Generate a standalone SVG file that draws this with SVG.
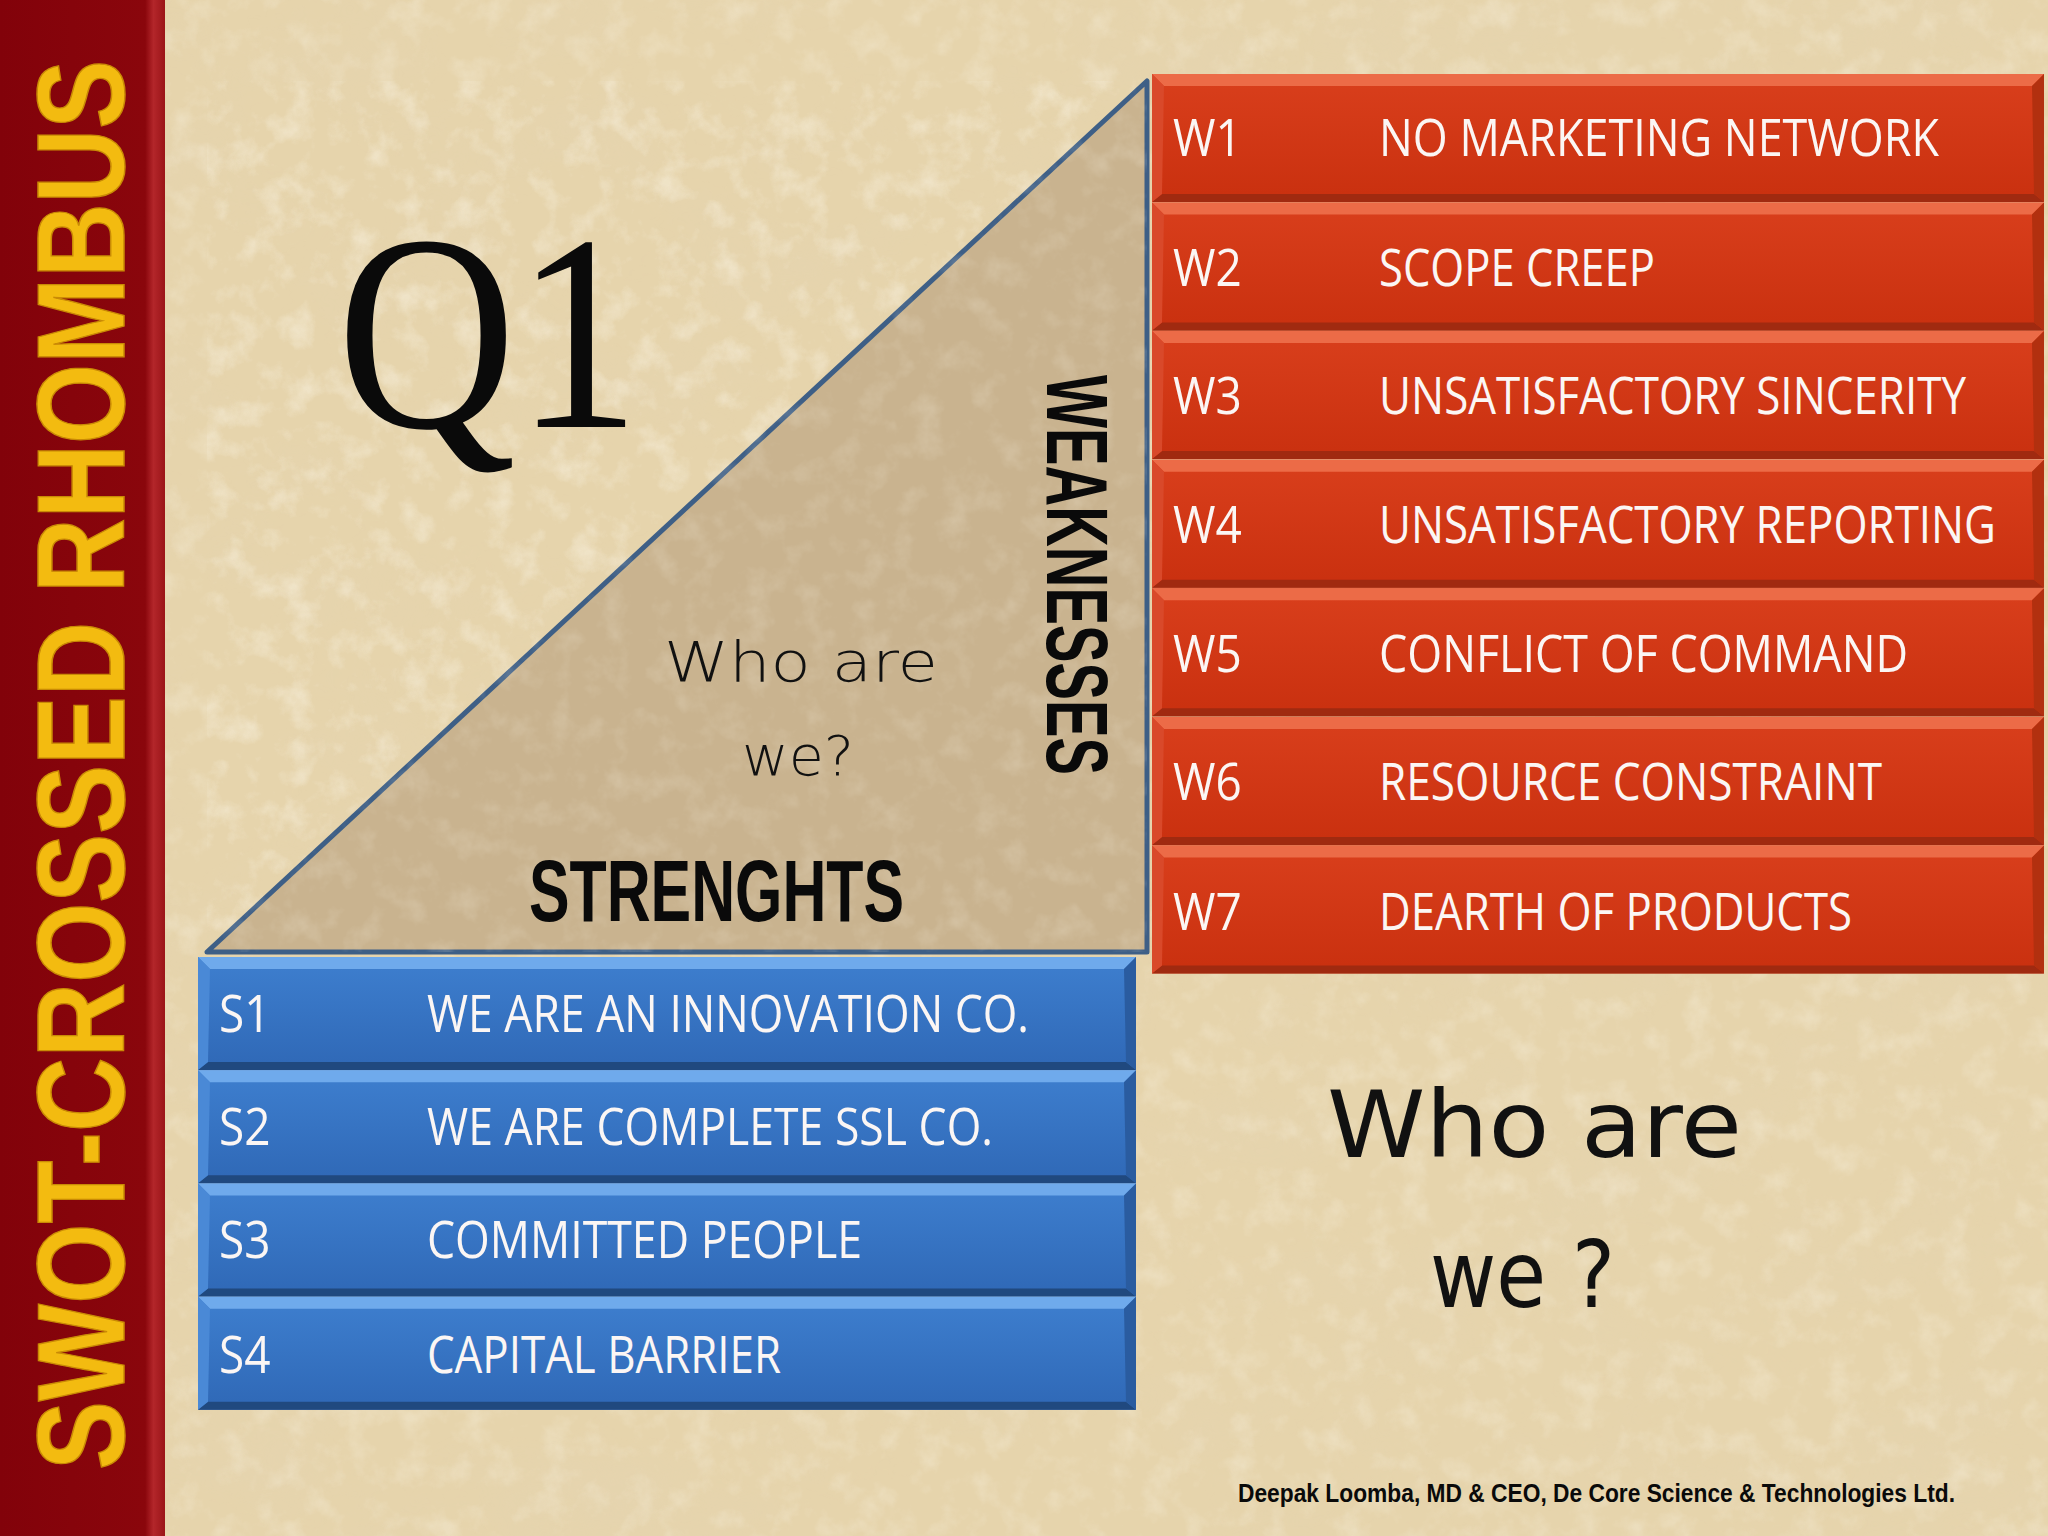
<svg xmlns="http://www.w3.org/2000/svg" xmlns:xlink="http://www.w3.org/1999/xlink" width="2048" height="1536" viewBox="0 0 2048 1536">
<defs>
<style>
.rowtxt{font-family:"Open Sans","Liberation Sans",sans-serif;font-size:46px;fill:#FBF6F4;}
.head{font-family:"Liberation Sans","DejaVu Sans",sans-serif;font-weight:bold;fill:#0a0a0a;}
.hand{font-family:"DejaVu Sans","Liberation Sans",sans-serif;fill:#111;}
</style>
<filter id="tex" x="0" y="0" width="100%" height="100%">
<feTurbulence type="fractalNoise" baseFrequency="0.006 0.009" numOctaves="5" seed="7" result="n"/>
<feColorMatrix in="n" type="matrix" values="0 0 0 0 0.78  0 0 0 0 0.66  0 0 0 0 0.45  2.2 0 0 0 -1.0"/>
</filter>
<filter id="tex2" x="0" y="0" width="100%" height="100%">
<feTurbulence type="fractalNoise" baseFrequency="0.035" numOctaves="4" seed="21" result="n"/>
<feColorMatrix in="n" type="matrix" values="0 0 0 0 0.97  0 0 0 0 0.93  0 0 0 0 0.82  0 2.4 0 0 -1.15"/>
</filter>
<linearGradient id="redBody" x1="0" y1="0" x2="0" y2="1">
<stop offset="0" stop-color="#D93F1C"/>
<stop offset="1" stop-color="#C9300F"/>
</linearGradient>
<linearGradient id="blueBody" x1="0" y1="0" x2="0" y2="1">
<stop offset="0" stop-color="#3E7FCF"/>
<stop offset="1" stop-color="#2F68B6"/>
</linearGradient>
<linearGradient id="barGrad" x1="0" y1="0" x2="1" y2="0">
<stop offset="0" stop-color="#82020A"/>
<stop offset="0.88" stop-color="#8A060C"/>
<stop offset="0.93" stop-color="#B3262A"/>
<stop offset="1" stop-color="#9B1418"/>
</linearGradient>
<g id="redRow">
<rect x="0" y="0" width="892" height="128" fill="url(#redBody)"/>
<polygon points="0,0 892,0 880,12 12,12" fill="#EC6B47"/>
<polygon points="0,128 892,128 882,120 10,120" fill="#A02A10"/>
<polygon points="892,0 892,128 882,120 880,12" fill="#B2300F"/>
<polygon points="0,0 12,12 10,120 0,128" fill="#D9492A"/>
</g>
<g id="blueRow">
<rect x="0" y="0" width="938" height="113" fill="url(#blueBody)"/>
<polygon points="0,0 938,0 926,12 12,12" fill="#6FAAEC"/>
<polygon points="0,113 938,113 928,105 10,105" fill="#20497F"/>
<polygon points="938,0 938,113 928,105 926,12" fill="#2A5CA0"/>
<polygon points="0,0 12,12 10,105 0,113" fill="#4A89D6"/>
</g>
</defs>

<g id="background">
<rect x="0" y="0" width="2048" height="1536" fill="#E6D4AC"/>
<rect x="0" y="0" width="2048" height="1536" filter="url(#tex)" opacity="0.4"/>
<rect x="0" y="0" width="2048" height="1536" filter="url(#tex2)" opacity="0.3"/>
</g>

<g id="title-bar">
<rect x="0" y="0" width="165" height="1536" fill="url(#barGrad)"/>
<text transform="translate(124,1470) rotate(-90) scale(1,1.24)" textLength="1410" lengthAdjust="spacingAndGlyphs" style="font-family:'Liberation Sans','DejaVu Sans',sans-serif;font-weight:bold;font-size:100px;fill:#F3BB10;stroke:#C98A05;stroke-width:1.2">SWOT-CROSSED RHOMBUS</text>
</g>

<g id="triangle">
<polygon points="207,952 1147,81 1147,952" fill="#C9B38F" stroke="#3E5F86" stroke-width="5" stroke-linejoin="round"/>
<polygon points="207,952 1147,81 1147,952" filter="url(#tex2)" opacity="0.2"/>
</g>

<g id="q1">
<text x="337" y="427" textLength="303" lengthAdjust="spacingAndGlyphs" style="font-family:'Liberation Serif','DejaVu Serif',serif;font-size:280px;fill:#0a0a0a">Q1</text>
</g>

<g id="label-weaknesses">
<text class="head" transform="translate(1047,375) rotate(90)" textLength="400" lengthAdjust="spacingAndGlyphs" style="font-size:87px">WEAKNESSES</text>
</g>

<g id="label-strengths">
<text class="head" x="529" y="921" textLength="375" lengthAdjust="spacingAndGlyphs" style="font-size:88px">STRENGHTS</text>
</g>

<g id="triangle-question">
<text class="hand" x="664" y="681" textLength="274" lengthAdjust="spacingAndGlyphs" style="font-size:56px;font-weight:200">Who are</text>
<text class="hand" x="742" y="775" textLength="112" lengthAdjust="spacingAndGlyphs" style="font-size:56px;font-weight:200">we?</text>
</g>

<g id="weaknesses">
<g id="W1"><use xlink:href="#redRow" x="1152" y="74"/><text class="rowtxt" transform="translate(1173,156) scale(1,1.13)">W1</text><text class="rowtxt" transform="translate(1379,156) scale(1,1.13)" textLength="560" lengthAdjust="spacingAndGlyphs">NO MARKETING NETWORK</text></g>
<g id="W2"><use xlink:href="#redRow" x="1152" y="202.6"/><text class="rowtxt" transform="translate(1173,286) scale(1,1.13)">W2</text><text class="rowtxt" transform="translate(1379,286) scale(1,1.13)" textLength="276" lengthAdjust="spacingAndGlyphs">SCOPE CREEP</text></g>
<g id="W3"><use xlink:href="#redRow" x="1152" y="331.1"/><text class="rowtxt" transform="translate(1173,414) scale(1,1.13)">W3</text><text class="rowtxt" transform="translate(1379,414) scale(1,1.13)" textLength="587" lengthAdjust="spacingAndGlyphs">UNSATISFACTORY SINCERITY</text></g>
<g id="W4"><use xlink:href="#redRow" x="1152" y="459.7"/><text class="rowtxt" transform="translate(1173,543) scale(1,1.13)">W4</text><text class="rowtxt" transform="translate(1379,543) scale(1,1.13)" textLength="617" lengthAdjust="spacingAndGlyphs">UNSATISFACTORY REPORTING</text></g>
<g id="W5"><use xlink:href="#redRow" x="1152" y="588.3"/><text class="rowtxt" transform="translate(1173,672) scale(1,1.13)">W5</text><text class="rowtxt" transform="translate(1379,672) scale(1,1.13)" textLength="529" lengthAdjust="spacingAndGlyphs">CONFLICT OF COMMAND</text></g>
<g id="W6"><use xlink:href="#redRow" x="1152" y="716.9"/><text class="rowtxt" transform="translate(1173,800) scale(1,1.13)">W6</text><text class="rowtxt" transform="translate(1379,800) scale(1,1.13)" textLength="503" lengthAdjust="spacingAndGlyphs">RESOURCE CONSTRAINT</text></g>
<g id="W7"><use xlink:href="#redRow" x="1152" y="845.4"/><text class="rowtxt" transform="translate(1173,930) scale(1,1.13)">W7</text><text class="rowtxt" transform="translate(1379,930) scale(1,1.13)" textLength="473" lengthAdjust="spacingAndGlyphs">DEARTH OF PRODUCTS</text></g>
</g>

<g id="strengths">
<g id="S1"><use xlink:href="#blueRow" x="198" y="957"/><text class="rowtxt" transform="translate(219,1032) scale(1,1.13)">S1</text><text class="rowtxt" transform="translate(427,1032) scale(1,1.13)" textLength="602" lengthAdjust="spacingAndGlyphs">WE ARE AN INNOVATION CO.</text></g>
<g id="S2"><use xlink:href="#blueRow" x="198" y="1070.3"/><text class="rowtxt" transform="translate(219,1145) scale(1,1.13)">S2</text><text class="rowtxt" transform="translate(427,1145) scale(1,1.13)" textLength="566" lengthAdjust="spacingAndGlyphs">WE ARE COMPLETE SSL CO.</text></g>
<g id="S3"><use xlink:href="#blueRow" x="198" y="1183.5"/><text class="rowtxt" transform="translate(219,1258) scale(1,1.13)">S3</text><text class="rowtxt" transform="translate(427,1258) scale(1,1.13)" textLength="435" lengthAdjust="spacingAndGlyphs">COMMITTED PEOPLE</text></g>
<g id="S4"><use xlink:href="#blueRow" x="198" y="1296.8"/><text class="rowtxt" transform="translate(219,1373) scale(1,1.13)">S4</text><text class="rowtxt" transform="translate(427,1373) scale(1,1.13)" textLength="354" lengthAdjust="spacingAndGlyphs">CAPITAL BARRIER</text></g>
</g>

<g id="big-question">
<text class="hand" x="1327" y="1157" textLength="415" lengthAdjust="spacingAndGlyphs" style="font-size:92px">Who are</text>
<text class="hand" x="1430" y="1307" textLength="185" lengthAdjust="spacingAndGlyphs" style="font-size:92px">we ?</text>
</g>

<g id="footer">
<text transform="translate(1238,1502) scale(1,1.2)" textLength="717" lengthAdjust="spacingAndGlyphs" style="font-family:'Liberation Sans','DejaVu Sans',sans-serif;font-weight:bold;font-size:22px;fill:#0a0a0a">Deepak Loomba, MD &amp; CEO, De Core Science &amp; Technologies Ltd.</text>
</g>

<g id="connectors"></g>
</svg>
